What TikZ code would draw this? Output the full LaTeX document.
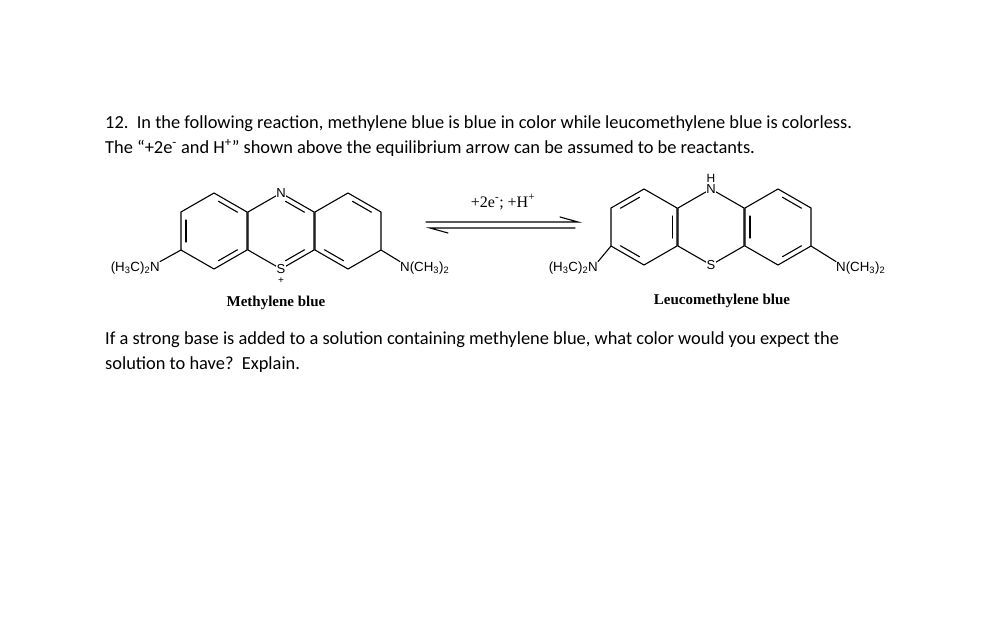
\documentclass[tikz,border=0pt]{standalone}
\usepackage{fontspec}
\setmainfont{Carlito}
\newfontfamily\chemfont{Liberation Sans}
\newfontfamily\namefont{Liberation Serif}
\usetikzlibrary{calc, positioning}
\tikzstyle{prose} = [anchor=base west, inner sep=0pt, font=\fontsize{18.4}{22}\selectfont]
\tikzstyle{atom} = [inner sep=0.4pt, fill=white, font=\chemfont\fontsize{13}{15}\selectfont]
\tikzstyle{group} = [inner sep=0pt, font=\chemfont\fontsize{13.3}{15}\selectfont]
\tikzstyle{title} = [inner sep=0pt, font=\namefont\bfseries\fontsize{15}{17}\selectfont]
\tikzstyle{bond} = [line width=1.1pt, line cap=round]

% hexagon corner coordinates: name, centre x, centre y
\newcommand{\hexring}[3]{
    \coordinate (#1-t) at (#2,#3-38);
    \coordinate (#1-ur) at (#2+33,#3-19);
    \coordinate (#1-lr) at (#2+33,#3+19);
    \coordinate (#1-b) at (#2,#3+38);
    \coordinate (#1-ll) at (#2-33,#3+19);
    \coordinate (#1-ul) at (#2-33,#3-19);
    \coordinate (#1-c) at (#2,#3);
}
% inner line of a double bond: ring, from, to
\newcommand{\innerbond}[3]{
    \draw [bond] ($($(#1-#2)!.16!(#1-#3)$)!.15!(#1-c)$) -- ($($(#1-#2)!.84!(#1-#3)$)!.15!(#1-c)$);
}
\newcommand{\ringbonds}[1]{
    \draw [bond] (#1-t) -- (#1-ur) -- (#1-lr) -- (#1-b) -- (#1-ll) -- (#1-ul) -- cycle;
}

\begin{document}
\begin{tikzpicture}[x=1pt, y=-1pt]
    \useasboundingbox (0,0) rectangle (1006,637);

    % question text
    \node (q1) [prose] at (105,128) {12.\ \ In the following reaction, methylene blue is blue in color while leucomethylene blue is colorless.};
    \node (q2) [prose] at (105,153) {The “+2e\textsuperscript{-} and H\textsuperscript{+}” shown above the equilibrium arrow can be assumed to be reactants.};

    % Methylene blue
    \hexring{ma}{214}{231}
    \hexring{mb}{281}{231}
    \hexring{mc}{348}{231}
    \ringbonds{ma}
    \ringbonds{mb}
    \ringbonds{mc}
    \innerbond{ma}{t}{ur}
    \innerbond{ma}{ul}{ll}
    \innerbond{ma}{b}{lr}
    \innerbond{mb}{t}{ur}
    \innerbond{mb}{b}{lr}
    \innerbond{mc}{t}{ur}
    \innerbond{mc}{ll}{b}
    \node (mbN) [atom] at (mb-t) {N};
    \node (mbS) [atom] at (mb-b) {S};
    \node (mbplus) [group, font=\chemfont\fontsize{10}{12}\selectfont, below=3pt of mbS] {+};
    \node (mbleft) [group, anchor=east] at (160,268) {(H\textsubscript{3}C)\textsubscript{2}N};
    \node (mbright) [group, anchor=west] at (400,268) {N(CH\textsubscript{3})\textsubscript{2}};
    \draw [bond] (ma-ll) -- (mbleft.north east);
    \draw [bond] (mc-lr) -- (mbright.north west);
    \node (mbname) [title] at (276,303) {Methylene blue};

    % equilibrium arrow
    \node (cond) [inner sep=0pt, font=\namefont\fontsize{16}{18}\selectfont] at (503,202) {+2e\textsuperscript{-}; +H\textsuperscript{+}};
    \coordinate (fwdA) at (426,222);
    \coordinate (fwdB) at (578,222);
    \coordinate (fwdC) at (560,217);
    \coordinate (revA) at (575,228);
    \coordinate (revB) at (430,228);
    \coordinate (revC) at (448,233);
    \draw [bond] (fwdA) -- (fwdB) -- (fwdC);
    \draw [bond] (revA) -- (revB) -- (revC);

    % Leucomethylene blue
    \hexring{la}{644}{227}
    \hexring{lb}{711}{227}
    \hexring{lc}{778}{227}
    \ringbonds{la}
    \ringbonds{lb}
    \ringbonds{lc}
    \innerbond{la}{ul}{t}
    \innerbond{la}{ur}{lr}
    \innerbond{la}{ll}{b}
    \innerbond{lc}{t}{ur}
    \innerbond{lc}{ul}{ll}
    \innerbond{lc}{b}{lr}
    \node (lbN) [atom] at (lb-t) {N};
    \node (lbH) [group, font=\chemfont\fontsize{12}{14}\selectfont, above=1.5pt of lbN] {H};
    \node (lbS) [atom] at (lb-b) {S};
    \node (lbleft) [group, anchor=east] at (598,268) {(H\textsubscript{3}C)\textsubscript{2}N};
    \node (lbright) [group, anchor=west] at (836,268) {N(CH\textsubscript{3})\textsubscript{2}};
    \draw [bond] (la-ll) -- (lbleft.north east);
    \draw [bond] (lc-lr) -- (lbright.north west);
    \node (lbname) [title] at (722,301) {Leucomethylene blue};

    % follow-up question
    \node (q3) [prose] at (105,344) {If a strong base is added to a solution containing methylene blue, what color would you expect the};
    \node (q4) [prose] at (105,369) {solution to have?\ \ Explain.};
\end{tikzpicture}
\end{document}
